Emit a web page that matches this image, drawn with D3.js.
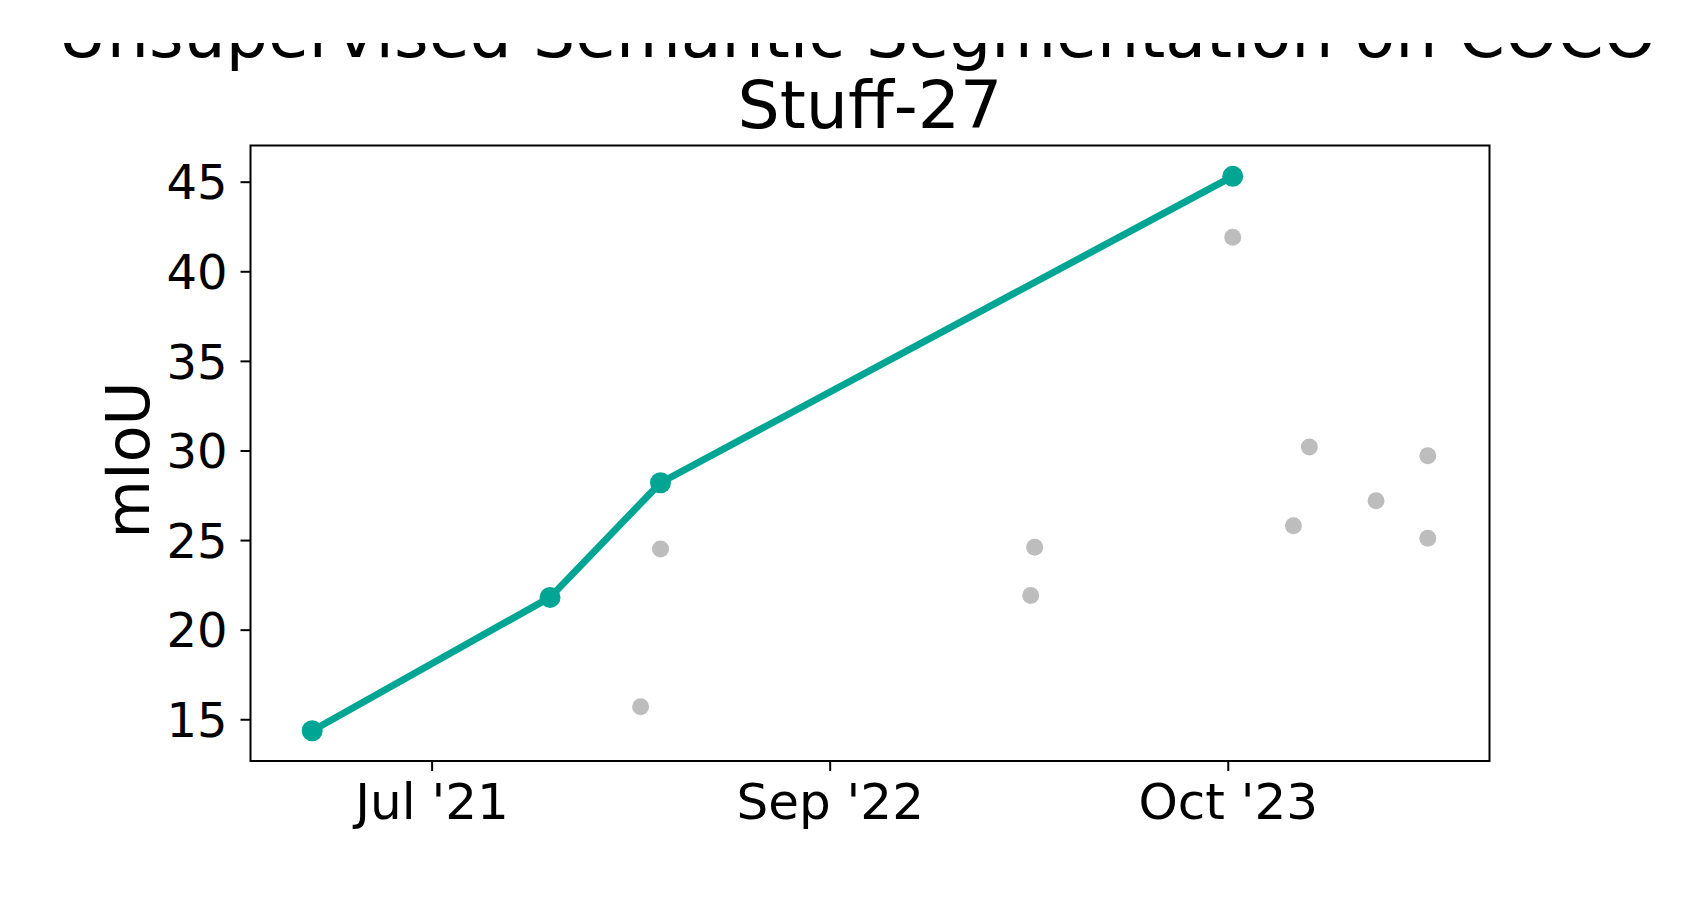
<!DOCTYPE html>
<html>
<head>
<meta charset="utf-8">
<script src="https://cdn.jsdelivr.net/npm/d3@7"></script>
<style>
  body { margin: 0; background: #fff; }
  text { font-family: "DejaVu Sans", sans-serif; }
</style>
</head>
<body>
<svg id="chart" width="1700" height="900"></svg>
<script>
// ---- data ----
const sotaDates = ['2021-03-31', '2021-11-25', '2022-03-16', '2023-10-12']
const sotaMiou = [14.36, 21.8, 28.2, 45.3]

const otherDates = ['2022-02-24', '2022-03-16', '2023-03-23', '2023-03-27', '2023-10-12',
                    '2023-12-12', '2023-12-28', '2024-03-04', '2024-04-25', '2024-04-25']
const otherMiou = [15.7, 24.5, 21.9, 24.6, 41.9, 25.8, 30.2, 27.2, 29.7, 25.1]

const xTickDates = ['2021-07-29', '2022-09-02', '2023-10-07']
const yTicks = [15, 20, 25, 30, 35, 40, 45]
const xLimits = ['2021-01-28', '2024-06-26']
const yLimits = [12.67, 47.02]

const titleLines = ['Unsupervised Semantic Segmentation on COCO-', 'Stuff-27']
const yLabel = 'mIoU'

const teal = '#00a693'
const grey = '#bdbdbd'

// ---- layout ----
const plotLeft = 250.5, plotRight = 1489.5, plotTop = 145.5, plotBottom = 761
const parse = d3.timeParse('%Y-%m-%d')

const svg = d3.select('#chart')

const x = d3.scaleTime()
    .domain(xLimits.map(parse))
    .range([plotLeft, plotRight])
const y = d3.scaleLinear()
    .domain(yLimits)
    .range([plotBottom, plotTop])

const sota = sotaDates.map((d, i) => ({ date: parse(d), v: sotaMiou[i] }))
const others = otherDates.map((d, i) => ({ date: parse(d), v: otherMiou[i] }))

// title (first line is cut off at the top, as in the original)
svg.append('clipPath').attr('id', 'titleClip')
    .append('rect').attr('x', 0).attr('y', 43).attr('width', 1700).attr('height', 200)

svg.append('g').attr('clip-path', 'url(#titleClip)')
    .selectAll('text')
    .data(titleLines)
    .enter().append('text')
    .attr('x', (plotLeft + plotRight) / 2)
    .attr('y', (d, i) => 56.5 + i * 71.5)
    .attr('text-anchor', 'middle')
    .style('font-size', '66.5px')
    .text(d => d)

// axes
const fmt = d3.timeFormat("%b '%y")

const yAxis = svg.append('g')
    .attr('transform', 'translate(' + plotLeft + ',0)')
    .call(d3.axisLeft(y).tickValues(yTicks).tickSize(10).tickPadding(13))
yAxis.select('.domain').remove()
yAxis.selectAll('line').attr('stroke', '#000').attr('stroke-width', 2)
yAxis.selectAll('text')
    .attr('fill', '#000')
    .attr('dy', '0.36em')
    .style('font-size', '48px')
    .style('font-family', '"DejaVu Sans"')

const xAxis = svg.append('g')
    .attr('transform', 'translate(0,' + plotBottom + ')')
    .call(d3.axisBottom(x).tickValues(xTickDates.map(parse)).tickSize(10).tickFormat(fmt))
xAxis.select('.domain').remove()
xAxis.selectAll('line').attr('stroke', '#000').attr('stroke-width', 2)
xAxis.selectAll('text')
    .attr('fill', '#000')
    .attr('y', 58)
    .attr('dy', 0)
    .style('font-size', '50px')
    .style('font-family', '"DejaVu Sans"')

// y label
svg.append('text')
    .attr('transform', 'translate(149,460) rotate(-90)')
    .attr('text-anchor', 'middle')
    .style('font-size', '60px')
    .text(yLabel)

// other models
svg.append('g').attr('class', 'others')
    .selectAll('circle')
    .data(others)
    .enter().append('circle')
    .attr('cx', d => x(d.date))
    .attr('cy', d => y(d.v))
    .attr('r', 8.5)
    .attr('fill', grey)

// state-of-the-art line
const line = d3.line().x(d => x(d.date)).y(d => y(d.v))
svg.append('path')
    .datum(sota)
    .attr('d', line)
    .attr('fill', 'none')
    .attr('stroke', teal)
    .attr('stroke-width', 7)
    .attr('stroke-linejoin', 'round')

svg.append('g').attr('class', 'sota')
    .selectAll('circle')
    .data(sota)
    .enter().append('circle')
    .attr('cx', d => x(d.date))
    .attr('cy', d => y(d.v))
    .attr('r', 10.5)
    .attr('fill', teal)

// frame
svg.append('rect')
    .attr('x', plotLeft)
    .attr('y', plotTop)
    .attr('width', plotRight - plotLeft)
    .attr('height', plotBottom - plotTop)
    .attr('fill', 'none')
    .attr('stroke', '#000')
    .attr('stroke-width', 2)
</script>
</body>
</html>
